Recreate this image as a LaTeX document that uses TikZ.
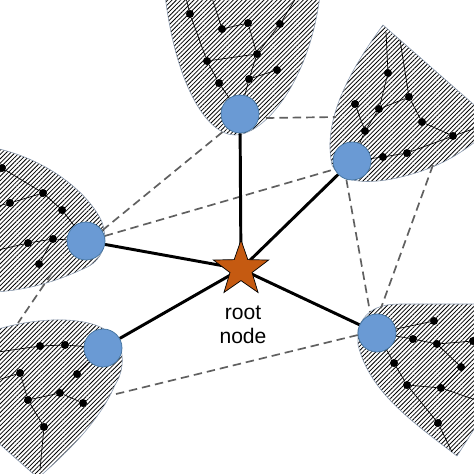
\documentclass[tikz,border=0pt]{standalone}
\usepackage{fontspec}
\setmainfont{Liberation Sans}
\usetikzlibrary{positioning,shapes.geometric,patterns.meta,backgrounds}

\definecolor{headblue}{HTML}{6A9AD4}
\definecolor{headedge}{HTML}{41719C}
\definecolor{rootorange}{HTML}{C55A11}
\definecolor{hullgray}{HTML}{8A9AB0}

\begin{document}
\begin{tikzpicture}[
    x=0.025cm, y=-0.025cm,
    head/.style={circle, draw=headedge, fill=headblue, line width=.5pt, minimum size=.95cm, inner sep=0pt},
    member/.style={circle, fill=black, minimum size=.2cm, inner sep=0pt},
    rootstar/.style={star, star points=5, star point ratio=2.5, draw=black, line width=.5pt,
      fill=rootorange, minimum size=1.45cm, inner sep=0pt},
    hull/.style={draw=hullgray, line width=.4pt,
      pattern={Lines[angle=45, distance=2.2pt, line width=.6pt]}},
    tree/.style={line width=.5pt},
    uplink/.style={line width=2.1pt},
    peer/.style={gray!75!black, line width=1.2pt, dash pattern=on 6pt off 3.5pt}]
  \useasboundingbox (0,0) rectangle (474,474);
  \clip (0,0) rectangle (474,474);

  % cluster heads and root
  \node[rootstar] (root) at (241,269) {};
  \node[align=center, font=\fontsize{15}{17}\selectfont] (root-label) at (243,325) {root\\node};
  \node[head] (h-top) at (240,114) {};
  \node[head] (h-ur) at (352,161) {};
  \node[head] (h-left) at (86,241) {};
  \node[head] (h-ll) at (103,348) {};
  \node[head] (h-lr) at (377,333) {};

  % cluster members
  \foreach \p[count=\i] in {(190,14),(222,29),(248,23),(280,24),(257,54),(207,61),(277,70),(219,83),(249,79)}
  \node[member] (top-\i) at \p {};
  \foreach \p[count=\i] in {(388,73),(409,97),(355,104),(379,109),(422,122),(365,131),(453,136),(383,157),(407,153)}
  \node[member] (ur-\i) at \p {};
  \foreach \p[count=\i] in {(2,168),(43,193),(10,203),(62,210),(53,239),(28,243),(39,264)}
  \node[member] (left-\i) at \p {};
  \foreach \p[count=\i] in {(40,346),(65,345),(20,373),(77,374),(60,393),(28,400),(83,403),(44,427)}
  \node[member] (ll-\i) at \p {};
  \foreach \p[count=\i] in {(434,321),(413,339),(437,344),(473,341),(461,367),(394,363),(407,385),(441,388),(438,423)}
  \node[member] (lr-\i) at \p {};

  % free ends on the hull borders
  \coordinate (top-o1) at (186,-2);  \coordinate (top-o2) at (212,-2);  \coordinate (top-o3) at (296,-2);
  \coordinate (ur-o1) at (386,32);   \coordinate (ur-o2) at (400,40);   \coordinate (ur-o3) at (476,128);
  \coordinate (left-o1) at (-2,160); \coordinate (left-o2) at (-2,206); \coordinate (left-o3) at (-2,250);
  \coordinate (ll-o1) at (-2,352);   \coordinate (ll-o2) at (-2,380);   \coordinate (ll-o3) at (40,470);
  \coordinate (lr-o1) at (452,452);  \coordinate (lr-o2) at (476,400);
  \coordinate (hull-t) at (266,118); \coordinate (hull-ur) at (336,117);
  \coordinate (hull-ur2) at (433,165); \coordinate (hull-lr) at (381,308);
  \coordinate (hull-ll) at (112,395); \coordinate (hull-l) at (52,273);
  \coordinate (hull-ll2) at (18,323); \coordinate (hull-t2) at (225,130);
  \coordinate (hull-ur3) at (332,170); \coordinate (hull-lr2) at (370,312);

  \begin{scope}[on background layer]
    % hatched clusters
    \path[hull] (165,-5) .. controls (175,80) and (205,135) .. (235,135)
      .. controls (265,135) and (310,80) .. (320,-5) -- cycle;
    \path[hull] (383,25) .. controls (350,70) and (322,120) .. (332,165)
      .. controls (342,188) and (385,185) .. (430,168) .. controls (450,160) and (465,150) .. (480,138)
      -- (480,110) -- cycle;
    \path[hull] (-5,148) .. controls (50,160) and (90,195) .. (102,222)
      .. controls (110,245) and (100,262) .. (85,268) .. controls (60,280) and (30,290) .. (-5,292) -- cycle;
    \path[hull] (-5,330) .. controls (40,316) and (90,316) .. (110,333)
      .. controls (126,345) and (125,370) .. (115,385) .. controls (100,420) and (70,450) .. (38,478)
      -- (-5,440) -- cycle;
    \path[hull] (358,330) .. controls (364,310) and (380,304) .. (400,304) -- (480,304) -- (480,420)
      -- (457,456) .. controls (410,420) and (370,392) .. (358,345) -- cycle;

    % trees inside the clusters
    \foreach \a/\b in {h-top/top-8, h-top/top-9, top-8/top-6, top-6/top-1, top-6/top-5, top-9/top-5,
        top-9/top-7, top-5/top-3, top-3/top-2, top-5/top-4, top-1/top-o1, top-2/top-o2, top-4/top-o3,
        h-ur/ur-6, ur-6/ur-3, ur-6/ur-4, h-ur/ur-8, ur-8/ur-9, ur-9/ur-7, ur-4/ur-1, ur-4/ur-2,
        ur-2/ur-5, ur-5/ur-7, ur-1/ur-o1, ur-2/ur-o2, ur-7/ur-o3,
        h-left/left-4, left-4/left-2, left-2/left-3, left-2/left-1, h-left/left-5, left-5/left-6,
        left-5/left-7, left-1/left-o1, left-3/left-o2, left-6/left-o3,
        h-ll/ll-2, ll-2/ll-1, h-ll/ll-4, ll-4/ll-5, ll-5/ll-6, ll-6/ll-3, ll-5/ll-7, ll-6/ll-8,
        ll-1/ll-o1, ll-3/ll-o2, ll-8/ll-o3,
        h-lr/lr-1, h-lr/lr-2, lr-2/lr-3, lr-3/lr-4, lr-3/lr-5, h-lr/lr-6, lr-6/lr-7, lr-7/lr-8,
        lr-8/lr-5, lr-7/lr-9, lr-9/lr-o1, lr-8/lr-o2}
    \draw[tree] (\a) -- (\b);

    % links between clusters
    \draw[peer] (hull-t) -- (hull-ur);
    \draw[peer] (h-left.33) -- (hull-t2);
    \draw[peer] (h-left.15) -- (hull-ur3);
    \draw[peer] (h-ur.253) -- (hull-lr2);
    \draw[peer] (hull-ur2) -- (hull-lr);
    \draw[peer] (h-lr.186) -- (hull-ll);
    \draw[peer] (hull-l) -- (hull-ll2);

    % links to the root
    \foreach \h in {top,ur,left,ll,lr}
    \draw[uplink] (root.center) -- (h-\h);
  \end{scope}
\end{tikzpicture}
\end{document}
